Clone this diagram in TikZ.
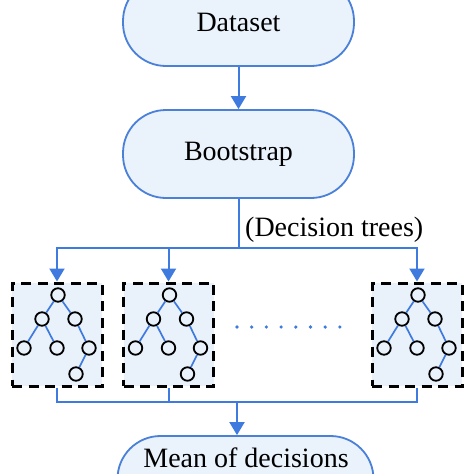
\documentclass[tikz,border=0pt]{standalone}
\usepackage{fontspec}
\setmainfont{Liberation Serif}
\usetikzlibrary{arrows.meta}
\definecolor{lineblue}{HTML}{3F7BDF}
\definecolor{boxblue}{HTML}{4A80D8}
\definecolor{fillblue}{HTML}{EAF2FC}
\definecolor{treefill}{HTML}{E9F1FB}
\begin{document}
\begin{tikzpicture}[x=1pt,y=-1pt,
 stadium/.style={draw=boxblue, line width=1.8pt, fill=fillblue, rounded corners=43pt, minimum width=231pt, minimum height=88pt, font=\fontsize{28}{30}\selectfont, inner sep=0pt},
 conn/.style={draw=lineblue, line width=2pt},
 arr/.style={conn, -{Triangle[width=15pt,length=13pt]}},
 treebox/.style={draw=black, line width=3pt, dash pattern=on 10pt off 6.5pt, fill=treefill, minimum width=90pt, minimum height=103pt, inner sep=0pt},
 tn/.style={circle, draw=black, line width=1.8pt, fill=treefill, minimum size=13.5pt, inner sep=0pt},
 te/.style={draw=lineblue, line width=1.7pt},
 lbl/.style={font=\fontsize{28}{30}\selectfont, inner sep=0pt}]
\useasboundingbox (0,0) rectangle (474,474);
\clip (0,0) rectangle (474,474);
\fill[white] (0,0) rectangle (474,474);

\node[stadium] (data) at (238.5,22) {Dataset};
\node[stadium] (boot) at (238.5,154) {Bootstrap};
\node[stadium, minimum width=256pt] (mean) at (245.5,480) {};
\node[lbl, anchor=base] (meantxt) at (246,467) {Mean of decisions};

\draw[arr] (data.south) -- (boot.north);

\foreach \i/\cx in {1/57,2/168.5,3/417}{
  \node[treebox] (t\i) at (\cx,334.5) {};
  \node[tn] (t\i r) at (\cx+1,295) {};
  \node[tn] (t\i l) at (\cx-15,319) {};
  \node[tn] (t\i rr) at (\cx+18,319) {};
  \node[tn] (t\i ll) at (\cx-33,348) {};
  \node[tn] (t\i lm) at (\cx,348) {};
  \node[tn] (t\i rrr) at (\cx+32,348) {};
  \node[tn] (t\i rrrl) at (\cx+19,374) {};
  \draw[te] (t\i r) -- (t\i l);
  \draw[te] (t\i r) -- (t\i rr);
  \draw[te] (t\i l) -- (t\i ll);
  \draw[te] (t\i l) -- (t\i lm);
  \draw[te] (t\i rr) -- (t\i rrr);
  \draw[te] (t\i rrr) -- (t\i rrrl);
}

\coordinate (split) at (238.5,248);
\draw[conn] (boot.south) -- (split);
\draw[arr] (split) -| (t1.north);
\draw[arr] (split) -| (t2.north);
\draw[arr] (split) -| (t3.north);
\node[lbl, anchor=west] (dtl) at (245,230) {(Decision trees)};

\coordinate (merge) at (237,402);
\draw[conn] (t1.south) |- (merge);
\draw[conn] (t2.south) |- (merge);
\draw[conn] (t3.south) |- (merge);
\draw[arr] (merge) -- (merge |- mean.north);

\foreach \k in {0,...,7}{
  \fill[lineblue] (237+\k*14.7,327) circle (1.8pt);
}
\end{tikzpicture}
\end{document}
